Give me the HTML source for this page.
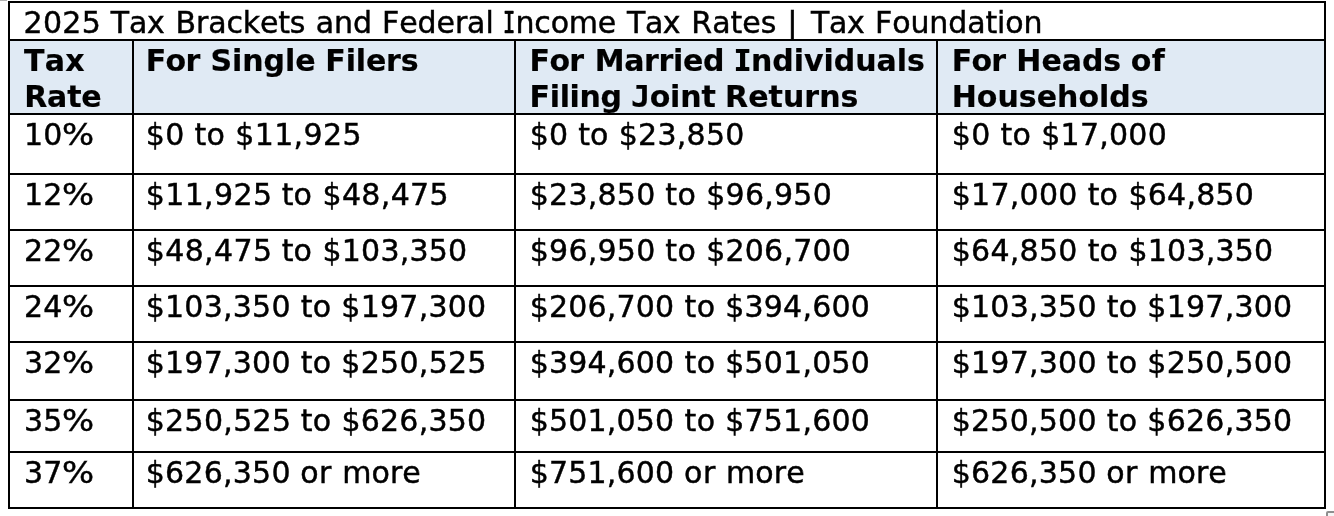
<!DOCTYPE html>
<html lang="en"><head><meta charset="utf-8"><title>2025 Tax Brackets and Federal Income Tax Rates | Tax Foundation</title>
<style>
html,body{margin:0;padding:0;background:#fff;}
body{width:1334px;height:516px;position:relative;overflow:hidden;font-family:"DejaVu Sans","Liberation Sans",sans-serif;color:#000;}
.l{position:absolute;background:#000;}
.bg{position:absolute;background:#E0EAF4;}
.t{position:absolute;white-space:nowrap;font-size:30px;line-height:36px;height:36px;-webkit-text-stroke:0.45px #000;font-kerning:none;}
.t span{display:inline-block;transform-origin:0 50%;}
.b{font-weight:bold;-webkit-text-stroke-width:0.2px;}
</style></head><body>
<div class="bg" style="left:10px;top:41px;width:1314px;height:72px"></div>
<div class="l" style="left:8px;top:1px;width:1318px;height:2px"></div>
<div class="l" style="left:8px;top:39px;width:1318px;height:2px"></div>
<div class="l" style="left:8px;top:113px;width:1318px;height:2px"></div>
<div class="l" style="left:8px;top:173px;width:1318px;height:2px"></div>
<div class="l" style="left:8px;top:229px;width:1318px;height:2px"></div>
<div class="l" style="left:8px;top:285px;width:1318px;height:2px"></div>
<div class="l" style="left:8px;top:341px;width:1318px;height:2px"></div>
<div class="l" style="left:8px;top:399px;width:1318px;height:2px"></div>
<div class="l" style="left:8px;top:451px;width:1318px;height:2px"></div>
<div class="l" style="left:8px;top:507px;width:1318px;height:2px"></div>
<div class="l" style="left:8px;top:1px;width:2px;height:508px"></div>
<div class="l" style="left:1324px;top:1px;width:2px;height:508px"></div>
<div class="l" style="left:132px;top:39px;width:2px;height:470px"></div>
<div class="l" style="left:514px;top:39px;width:2px;height:470px"></div>
<div class="l" style="left:936px;top:39px;width:2px;height:470px"></div>
<div style="position:absolute;left:0;top:0;width:7px;height:1px;background:#b0b0b0"></div>
<div style="position:absolute;left:1326px;top:511px;width:12px;height:12px;border:2px solid #8e8e8e;border-radius:2px;background:#f6f6f6;box-sizing:border-box"></div>
<div class="t" style="left:23.55px;top:5px"><span style="letter-spacing:0.319px">2025</span> <span style="margin-left:0.10px;letter-spacing:-0.231px">Tax</span> <span style="margin-left:1.42px;letter-spacing:-0.154px">Brackets</span> <span style="margin-left:0.92px;letter-spacing:-0.127px">and</span> <span style="margin-left:0.68px;letter-spacing:-0.101px">Federal</span> <span style="margin-left:0.08px;transform:scaleX(0.6739);font-family:'DejaVu Sans Mono',monospace;text-shadow:0.50px 0 0 #000,-0.50px 0 0 #000">I</span><span style="margin-left:-5.77px;letter-spacing:-0.222px">ncome</span> <span style="margin-left:1.57px;letter-spacing:-0.518px">Tax</span> <span style="margin-left:1.68px;letter-spacing:0.038px">Rates</span> <span style="margin-left:0.80px;transform:scaleX(1.0726)">|</span> <span style="margin-left:4.45px;letter-spacing:-0.365px">Tax</span> <span style="margin-left:1.20px;letter-spacing:-0.117px">Foundation</span></div>
<div class="t b" style="left:24.11px;top:43px"><span style="letter-spacing:0.232px">Tax</span></div>
<div class="t b" style="left:24.16px;top:79px"><span style="letter-spacing:-0.172px">Rate</span></div>
<div class="t b" style="left:145.64px;top:43px"><span style="letter-spacing:-0.608px">For</span> <span style="margin-left:0.30px;letter-spacing:-0.051px">Single</span> <span style="margin-left:-0.60px;letter-spacing:-0.165px">Filers</span></div>
<div class="t b" style="left:529.60px;top:43px"><span style="letter-spacing:-0.688px">For</span> <span style="margin-left:0.80px;letter-spacing:-0.342px">Married</span> <span style="margin-left:-0.72px;transform:scaleX(0.9543);font-family:'DejaVu Sans Mono',monospace;text-shadow:0.55px 0 0 #000,-0.55px 0 0 #000">I</span><span style="margin-left:-0.91px;letter-spacing:-0.043px">ndividuals</span></div>
<div class="t b" style="left:529.60px;top:79px"><span style="letter-spacing:-0.345px">Filing</span> <span style="margin-left:-0.75px;transform:scaleX(1.0698);font-family:'DejaVu Sans Mono',monospace">J</span><span style="margin-left:0.19px;letter-spacing:-0.171px">oint</span> <span style="margin-left:-1.00px;letter-spacing:0.036px">Returns</span></div>
<div class="t b" style="left:951.64px;top:43px"><span style="letter-spacing:-0.727px">For</span> <span style="margin-left:0.56px;letter-spacing:-0.048px">Heads</span> <span style="margin-left:-0.83px;letter-spacing:0.440px">of</span></div>
<div class="t b" style="left:951.64px;top:79px"><span style="letter-spacing:0.021px">Households</span></div>
<div class="t" style="left:24.10px;top:117px"><span>10</span><span style="margin-left:-0.27px;transform:scaleX(1.1270)">%</span></div>
<div class="t" style="left:145.70px;top:117px"><span style="letter-spacing:0.532px">$0</span> <span style="margin-left:-0.06px;letter-spacing:0.315px">to</span> <span style="margin-left:0.50px;letter-spacing:0.363px">$11,925</span></div>
<div class="t" style="left:529.81px;top:117px"><span style="letter-spacing:0.235px">$0</span> <span style="margin-left:0.19px;letter-spacing:0.020px">to</span> <span style="margin-left:0.87px;letter-spacing:0.262px">$23,850</span></div>
<div class="t" style="left:951.70px;top:117px"><span style="letter-spacing:0.532px">$0</span> <span style="margin-left:-0.06px;letter-spacing:0.315px">to</span> <span style="margin-left:0.50px;letter-spacing:0.249px">$17,000</span></div>
<div class="t" style="left:24.10px;top:177px"><span>12</span><span style="margin-left:-0.27px;transform:scaleX(1.1270)">%</span></div>
<div class="t" style="left:145.70px;top:177px"><span style="letter-spacing:0.385px">$11,925</span> <span style="margin-left:-0.33px;letter-spacing:0.126px">to</span> <span style="margin-left:0.89px;letter-spacing:0.340px">$48,475</span></div>
<div class="t" style="left:529.81px;top:177px"><span style="letter-spacing:0.236px">$23,850</span> <span style="margin-left:0.25px;letter-spacing:0.484px">to</span> <span style="margin-left:0.28px;letter-spacing:0.248px">$96,950</span></div>
<div class="t" style="left:951.70px;top:177px"><span style="letter-spacing:0.271px">$17,000</span> <span style="margin-left:0.47px;letter-spacing:0.126px">to</span> <span style="margin-left:0.89px;letter-spacing:0.223px">$64,850</span></div>
<div class="t" style="left:24.10px;top:233px"><span>22</span><span style="margin-left:-0.27px;transform:scaleX(1.1270)">%</span></div>
<div class="t" style="left:145.70px;top:233px"><span style="letter-spacing:0.385px">$48,475</span> <span style="margin-left:-0.33px;letter-spacing:0.126px">to</span> <span style="margin-left:0.89px;letter-spacing:0.222px">$103,350</span></div>
<div class="t" style="left:529.81px;top:233px"><span style="letter-spacing:0.236px">$96,950</span> <span style="margin-left:0.25px;letter-spacing:0.484px">to</span> <span style="margin-left:0.28px;letter-spacing:0.215px">$206,700</span></div>
<div class="t" style="left:951.70px;top:233px"><span style="letter-spacing:0.271px">$64,850</span> <span style="margin-left:0.47px;letter-spacing:0.126px">to</span> <span style="margin-left:0.89px;letter-spacing:0.222px">$103,350</span></div>
<div class="t" style="left:24.10px;top:289px"><span>24</span><span style="margin-left:-0.27px;transform:scaleX(1.1270)">%</span></div>
<div class="t" style="left:145.70px;top:289px"><span style="letter-spacing:0.235px">$103,350</span> <span style="margin-left:0.49px;letter-spacing:0.162px">to</span> <span style="margin-left:0.62px;letter-spacing:0.231px">$197,300</span></div>
<div class="t" style="left:529.81px;top:289px"><span style="letter-spacing:0.164px">$206,700</span> <span style="margin-left:0.58px;letter-spacing:0.531px">to</span> <span style="margin-left:0.12px;letter-spacing:0.202px">$394,600</span></div>
<div class="t" style="left:951.70px;top:289px"><span style="letter-spacing:0.235px">$103,350</span> <span style="margin-left:0.49px;letter-spacing:0.162px">to</span> <span style="margin-left:0.62px;letter-spacing:0.231px">$197,300</span></div>
<div class="t" style="left:24.10px;top:345px"><span>32</span><span style="margin-left:-0.27px;transform:scaleX(1.1270)">%</span></div>
<div class="t" style="left:145.70px;top:345px"><span style="letter-spacing:0.235px">$197,300</span> <span style="margin-left:0.49px;letter-spacing:0.162px">to</span> <span style="margin-left:0.62px;letter-spacing:0.287px">$250,525</span></div>
<div class="t" style="left:529.81px;top:345px"><span style="letter-spacing:0.164px">$394,600</span> <span style="margin-left:0.58px;letter-spacing:0.531px">to</span> <span style="margin-left:0.12px;letter-spacing:0.202px">$501,050</span></div>
<div class="t" style="left:951.70px;top:345px"><span style="letter-spacing:0.235px">$197,300</span> <span style="margin-left:0.49px;letter-spacing:0.162px">to</span> <span style="margin-left:0.62px;letter-spacing:0.231px">$250,500</span></div>
<div class="t" style="left:24.10px;top:403px"><span>35</span><span style="margin-left:-0.27px;transform:scaleX(1.1270)">%</span></div>
<div class="t" style="left:145.70px;top:403px"><span style="letter-spacing:0.322px">$250,525</span> <span style="margin-left:-0.21px;letter-spacing:0.162px">to</span> <span style="margin-left:0.62px;letter-spacing:0.231px">$626,350</span></div>
<div class="t" style="left:529.81px;top:403px"><span style="letter-spacing:0.164px">$501,050</span> <span style="margin-left:0.58px;letter-spacing:0.531px">to</span> <span style="margin-left:0.12px;letter-spacing:0.202px">$751,600</span></div>
<div class="t" style="left:951.70px;top:403px"><span style="letter-spacing:0.235px">$250,500</span> <span style="margin-left:0.49px;letter-spacing:0.162px">to</span> <span style="margin-left:0.62px;letter-spacing:0.231px">$626,350</span></div>
<div class="t" style="left:24.10px;top:455px"><span>37</span><span style="margin-left:-0.27px;transform:scaleX(1.1270)">%</span></div>
<div class="t" style="left:145.70px;top:455px"><span style="letter-spacing:0.235px">$626,350</span> <span style="margin-left:0.01px;letter-spacing:0.411px">or</span> <span style="margin-left:1.00px;letter-spacing:0.014px">more</span></div>
<div class="t" style="left:529.81px;top:455px"><span style="letter-spacing:0.164px">$751,600</span> <span style="margin-left:0.29px;letter-spacing:0.485px">or</span> <span style="margin-left:0.79px;letter-spacing:0.050px">more</span></div>
<div class="t" style="left:951.70px;top:455px"><span style="letter-spacing:0.235px">$626,350</span> <span style="margin-left:0.01px;letter-spacing:0.411px">or</span> <span style="margin-left:1.00px;letter-spacing:0.014px">more</span></div>
</body></html>
